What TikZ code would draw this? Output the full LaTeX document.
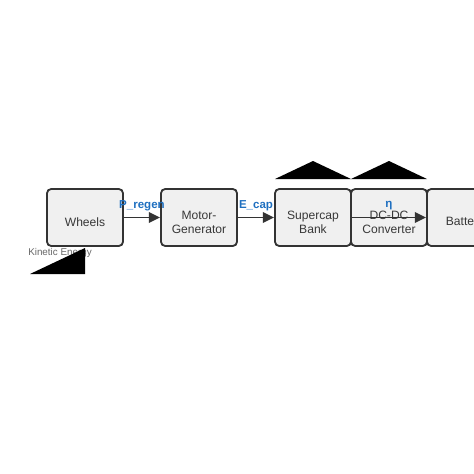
\documentclass[tikz,border=0pt]{standalone}
\usepackage{fontspec}
\setmainfont{Liberation Sans}
\usetikzlibrary{arrows.meta}
\definecolor{tagblue}{HTML}{1E6FC0}
\definecolor{edge}{HTML}{333333}

\begin{document}
\begin{tikzpicture}[x=0.025cm,y=-0.025cm,
	block/.style={draw=edge,fill=black!6,rounded corners=3pt,line width=1.3pt,minimum width=1.9cm,minimum height=1.425cm,inner sep=0},
	blocktext/.style={align=center,yshift=-0.12cm,inner sep=0,text=black!78,font=\fontsize{8.6}{10.2}\selectfont},
	flow/.style={draw=edge,line width=1.4pt,-{Triangle[length=8pt,width=7.5pt]}},
	tag/.style={text=tagblue,font=\fontsize{8.2}{9}\selectfont\bfseries,inner sep=0}]
	\useasboundingbox (0,0) rectangle (474,474);
	\clip (0,0) rectangle (474,474);
	% blocks
	\node[block,label={[blocktext]center:Wheels}] (wheels) at (85,217.5) {};
	\node[block,label={[blocktext]center:Motor-\\Generator}] (motor) at (199,217.5) {};
	\node[block,label={[blocktext]center:Supercap\\Bank}] (cap) at (313,217.5) {};
	\node[block,label={[blocktext]center:DC-DC\\Converter}] (dcdc) at (389,217.5) {};
	\node[block,label={[blocktext]center:Battery}] (batt) at (465,217.5) {};
	% power flow
	\draw[flow] (wheels) -- (motor);
	\draw[flow] (motor) -- (cap);
	\draw[flow] (cap.east) -- (batt.west);
	\node[tag] (pregen) at (142,206) {P\_regen};
	\node[tag] (ecap) at (256,206) {E\_cap};
	\node[tag] (eta) at (389,206) {η};
	% marks
	\fill (275,179) -- (313,161) -- (351,179) -- cycle;
	\fill (351,179) -- (389,161) -- (427,179) -- cycle;
	\node[text=black!60,font=\fontsize{7}{8}\selectfont,inner sep=0] (kin) at (60,252.5) {Kinetic Energy};
	\fill (30,274) -- (85,274) -- (85,248) -- cycle;
\end{tikzpicture}
\end{document}
